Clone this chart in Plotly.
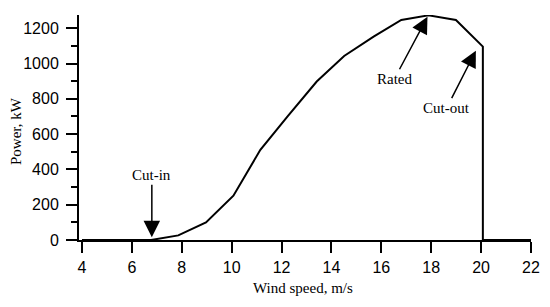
import plotly.graph_objects as go

wind_speed = [4, 6.77, 7.86, 8.97, 10.07, 11.15, 12.25, 13.41, 14.51, 15.69, 16.8, 17.89, 18.99, 20.07, 20.07, 22]
power_kw = [0, 0, 26, 100, 251, 511, 702, 898, 1043, 1152, 1247, 1273, 1247, 1096, 0, 0]

x_ticks = [4, 6, 8, 10, 12, 14, 16, 18, 20, 22]
y_ticks = [0, 200, 400, 600, 800, 1000, 1200]

# annotation labels: (text, x tip, y tip, ax, ay)
ann_labels = ["Cut-in", "Rated", "Cut-out"]
ann_x = [6.8, 17.85, 19.79]
ann_y = [15, 1265, 1073]
ann_ax = [0, -33, -29]
ann_ay = [-62, 62, 57]

serif = "Liberation Serif, Times New Roman, serif"
sans = "Liberation Sans, Arial, sans-serif"

fig = go.Figure()
fig.add_trace(go.Scatter(x=wind_speed, y=power_kw, mode="lines",
                         line=dict(color="black", width=2), showlegend=False))

for t, x, y, ax, ay in zip(ann_labels, ann_x, ann_y, ann_ax, ann_ay):
    fig.add_annotation(x=x, y=y, ax=ax, ay=ay, text=t, showarrow=True,
                       arrowhead=2, arrowsize=2.2, arrowwidth=1.5, arrowcolor="black",
                       font=dict(family=serif, size=15, color="black"))

# axis titles
fig.add_annotation(xref="paper", yref="paper", x=0.4945, y=-0.212, text="Wind speed, m/s",
                   showarrow=False, xanchor="center", yanchor="middle",
                   font=dict(family=serif, size=15, color="black"))
fig.add_annotation(xref="paper", yref="paper", x=-0.139, y=0.485, text="Power, kW",
                   showarrow=False, xanchor="center", yanchor="middle", textangle=-90,
                   font=dict(family=serif, size=15, color="black"))

fig.update_layout(
    width=550, height=307,
    margin=dict(l=79, r=19, t=15, b=67),
    plot_bgcolor="white", paper_bgcolor="white",
    xaxis=dict(range=[3.88, 22], tickvals=x_ticks, ticks="outside", ticklen=11, tickwidth=2,
               tickcolor="black", showline=True, linecolor="black", linewidth=2,
               showgrid=False, zeroline=False, automargin=False, ticklabelstandoff=1,
               tickfont=dict(family=sans, size=16, color="black")),
    yaxis=dict(range=[0, 1275], tickvals=y_ticks, ticks="outside", ticklen=11, tickwidth=2,
               tickcolor="black", showline=True, linecolor="black", linewidth=2,
               showgrid=False, zeroline=False, automargin=False, ticklabelstandoff=4,
               minor=dict(dtick=100, ticks="outside", ticklen=6, tickwidth=2, tickcolor="black"),
               tickfont=dict(family=sans, size=16, color="black")),
)

fig.write_html("out.html", config={"displayModeBar": False},
               post_script="document.body.style.margin='0';")
